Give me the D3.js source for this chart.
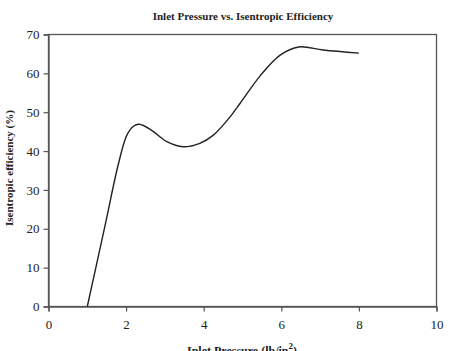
<!DOCTYPE html>
<html>
<head>
<meta charset="utf-8">
<script src="https://cdn.jsdelivr.net/npm/d3@7"></script>
<style>
  html, body { margin: 0; padding: 0; background: #fff; }
  svg { display: block; }
</style>
</head>
<body>
<svg id="chart" width="474" height="351"></svg>
<script>
// Data
const pressure   = [1.0, 1.45, 1.8, 2.02, 2.19, 2.34, 2.65, 3.05, 3.47, 3.90, 4.25, 4.68, 4.94, 5.45, 5.97, 6.45, 7.08, 8.0];
const efficiency = [0, 20.5, 36.6, 44.1, 46.4, 46.9, 45.4, 42.4, 41.1, 42.0, 44.1, 48.8, 52.3, 59.3, 64.7, 66.8, 66.0, 65.2];
const xTicks = [0, 2, 4, 6, 8, 10];
const yTicks = [0, 10, 20, 30, 40, 50, 60, 70];
const title = "Inlet Pressure vs. Isentropic Efficiency";
const xLabel = "Inlet Pressure (lb/in";
const yLabel = "Isentropic efficiency (%)";

const svg = d3.select("#chart");
const m = { left: 48.5, right: 436.5, top: 34.5, bottom: 306.5 };
const x = d3.scaleLinear().domain([0, 10]).range([m.left, m.right]);
const y = d3.scaleLinear().domain([0, 70]).range([m.bottom, m.top]);
const font = "'Liberation Serif', 'Times New Roman', serif";

// plot frame
svg.append("rect")
  .attr("x", m.left).attr("y", m.top)
  .attr("width", m.right - m.left).attr("height", m.bottom - m.top)
  .attr("fill", "none").attr("stroke", "#555").attr("stroke-width", 1.3);

// axes
const xAxis = svg.append("g")
  .attr("transform", `translate(0,${m.bottom})`)
  .call(d3.axisBottom(x).tickValues(xTicks).tickSize(5).tickPadding(8).tickFormat(d3.format("d")));
const yAxis = svg.append("g")
  .attr("transform", `translate(${m.left},0)`)
  .call(d3.axisLeft(y).tickValues(yTicks).tickSize(5).tickPadding(4).tickFormat(d3.format("d")));
[xAxis, yAxis].forEach(a => {
  a.attr("font-family", font);
  a.select(".domain").attr("stroke", "#555").attr("stroke-width", 1.3);
  a.selectAll(".tick line").attr("stroke", "#555").attr("stroke-width", 1.2);
  a.selectAll(".tick text").attr("font-family", font).attr("font-size", 13).attr("fill", "#222");
});

// curve
const pts = pressure.map((p, i) => [p, efficiency[i]]);
svg.append("path")
  .datum(pts)
  .attr("fill", "none")
  .attr("stroke", "#222")
  .attr("stroke-width", 1.4)
  .attr("d", d3.line().x(d => x(d[0])).y(d => y(d[1])).curve(d3.curveCatmullRom.alpha(0.5)));

// title
svg.append("text")
  .attr("x", 243).attr("y", 20)
  .attr("text-anchor", "middle")
  .attr("font-family", font).attr("font-weight", "bold").attr("font-size", 11)
  .attr("fill", "#222")
  .text(title);

// x label (partially cut off at bottom in the reference)
const xl = svg.append("text")
  .attr("x", 242).attr("y", 355)
  .attr("text-anchor", "middle")
  .attr("font-family", font).attr("font-weight", "bold").attr("font-size", 12)
  .attr("fill", "#222");
xl.append("tspan").text(xLabel);
xl.append("tspan").attr("dy", -6).attr("font-size", 9).text("2");
xl.append("tspan").attr("dy", 6).text(")");

// y label
svg.append("text")
  .attr("transform", "translate(13,168) rotate(-90)")
  .attr("text-anchor", "middle")
  .attr("font-family", font).attr("font-weight", "bold").attr("font-size", 11)
  .attr("fill", "#222")
  .text(yLabel);
</script>
</body>
</html>
